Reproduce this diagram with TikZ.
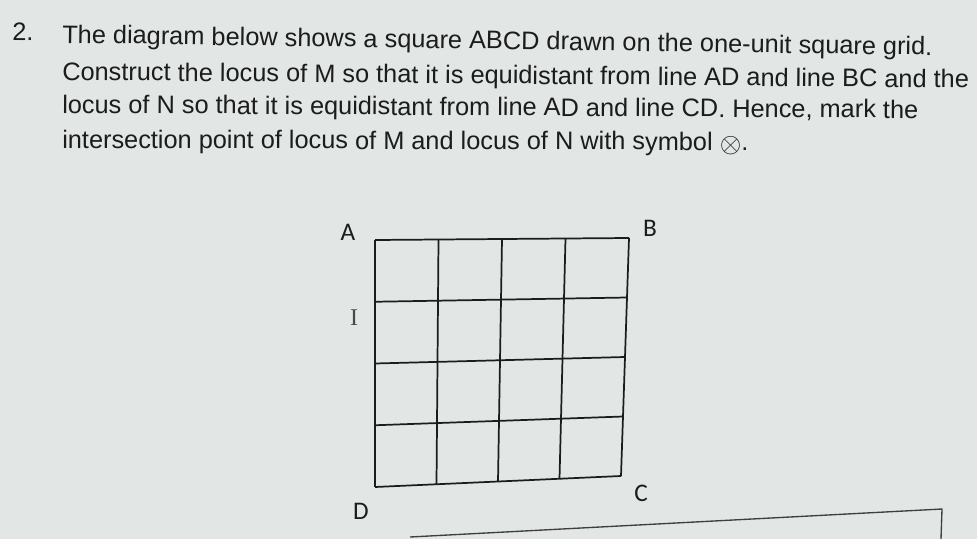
\documentclass[tikz,border=0pt]{standalone}
\usepackage{fontspec}
\setmainfont{Liberation Sans}
\newfontfamily\labelfont{Carlito}
\newfontfamily\cursorfont{Liberation Serif}
\usepackage{graphicx}
\usepackage{xcolor}
\usetikzlibrary{calc}

\definecolor{screen}{RGB}{226,231,229}
\definecolor{ink}{RGB}{28,28,30}

\tikzset{
  qline/.style={anchor=base west, inner sep=0pt, text=ink, font=\fontsize{19}{23}\selectfont},
  corner/.style={text=ink, inner sep=0pt, font=\labelfont\fontsize{19}{23}\selectfont},
  gridline/.style={draw=ink, line width=1.3pt}
}

\begin{document}
\begin{tikzpicture}[x=0.75pt, y=-0.75pt]
    \useasboundingbox (0,0) rectangle (977,539);
    \fill[screen] (0,0) rectangle (977,539);

    % question text
    \node[qline, rotate=-0.3] (num) at (12,40) {2.};
    \node[qline, rotate=-0.8] (line1) at (62,43) {The diagram below shows a square ABCD drawn on the one-unit square grid.};
    \node[qline, rotate=-0.5] (line2) at (62,80) {Construct the locus of M so that it is equidistant from line AD and line BC and the};
    \node[qline, rotate=-0.35] (line3) at (62,113) {locus of N so that it is equidistant from line AD and line CD. Hence, mark the};
    \node[qline, rotate=-0.2] (line4) at (62,148) {intersection point of locus of M and locus of N with symbol \raisebox{-1.5pt}{\scalebox{1.2}{$\otimes$}}.};

    % corners of the square
    \coordinate (pA) at (375,240);
    \coordinate (pB) at (629,238);
    \coordinate (pC) at (621,476);
    \coordinate (pD) at (375,487);

    \foreach \t in {0,0.25,0.5,0.75,1} {
        \draw[gridline] ($(pA)!\t!(pB)$) -- ($(pD)!\t!(pC)$);
        \draw[gridline] ($(pA)!\t!(pD)$) -- ($(pB)!\t!(pC)$);
    }

    \node[corner] (A) at (348,232) {A};
    \node[corner] (B) at (650,228) {B};
    \node[corner] (C) at (641,493) {C};
    \node[corner] (D) at (361,511) {D};

    % text cursor
    \node[text=ink!80, font=\cursorfont\fontsize{18}{18}\selectfont, inner sep=0pt] (cursor) at (354,318) {I};

    % edge of the answer box
    \coordinate (boxL) at (410,537);
    \coordinate (boxR) at (942,509);
    \coordinate (boxB) at (941,539);
    \draw[draw=ink!85, line width=1pt] (boxL) -- (boxR) -- (boxB);
\end{tikzpicture}
\end{document}
